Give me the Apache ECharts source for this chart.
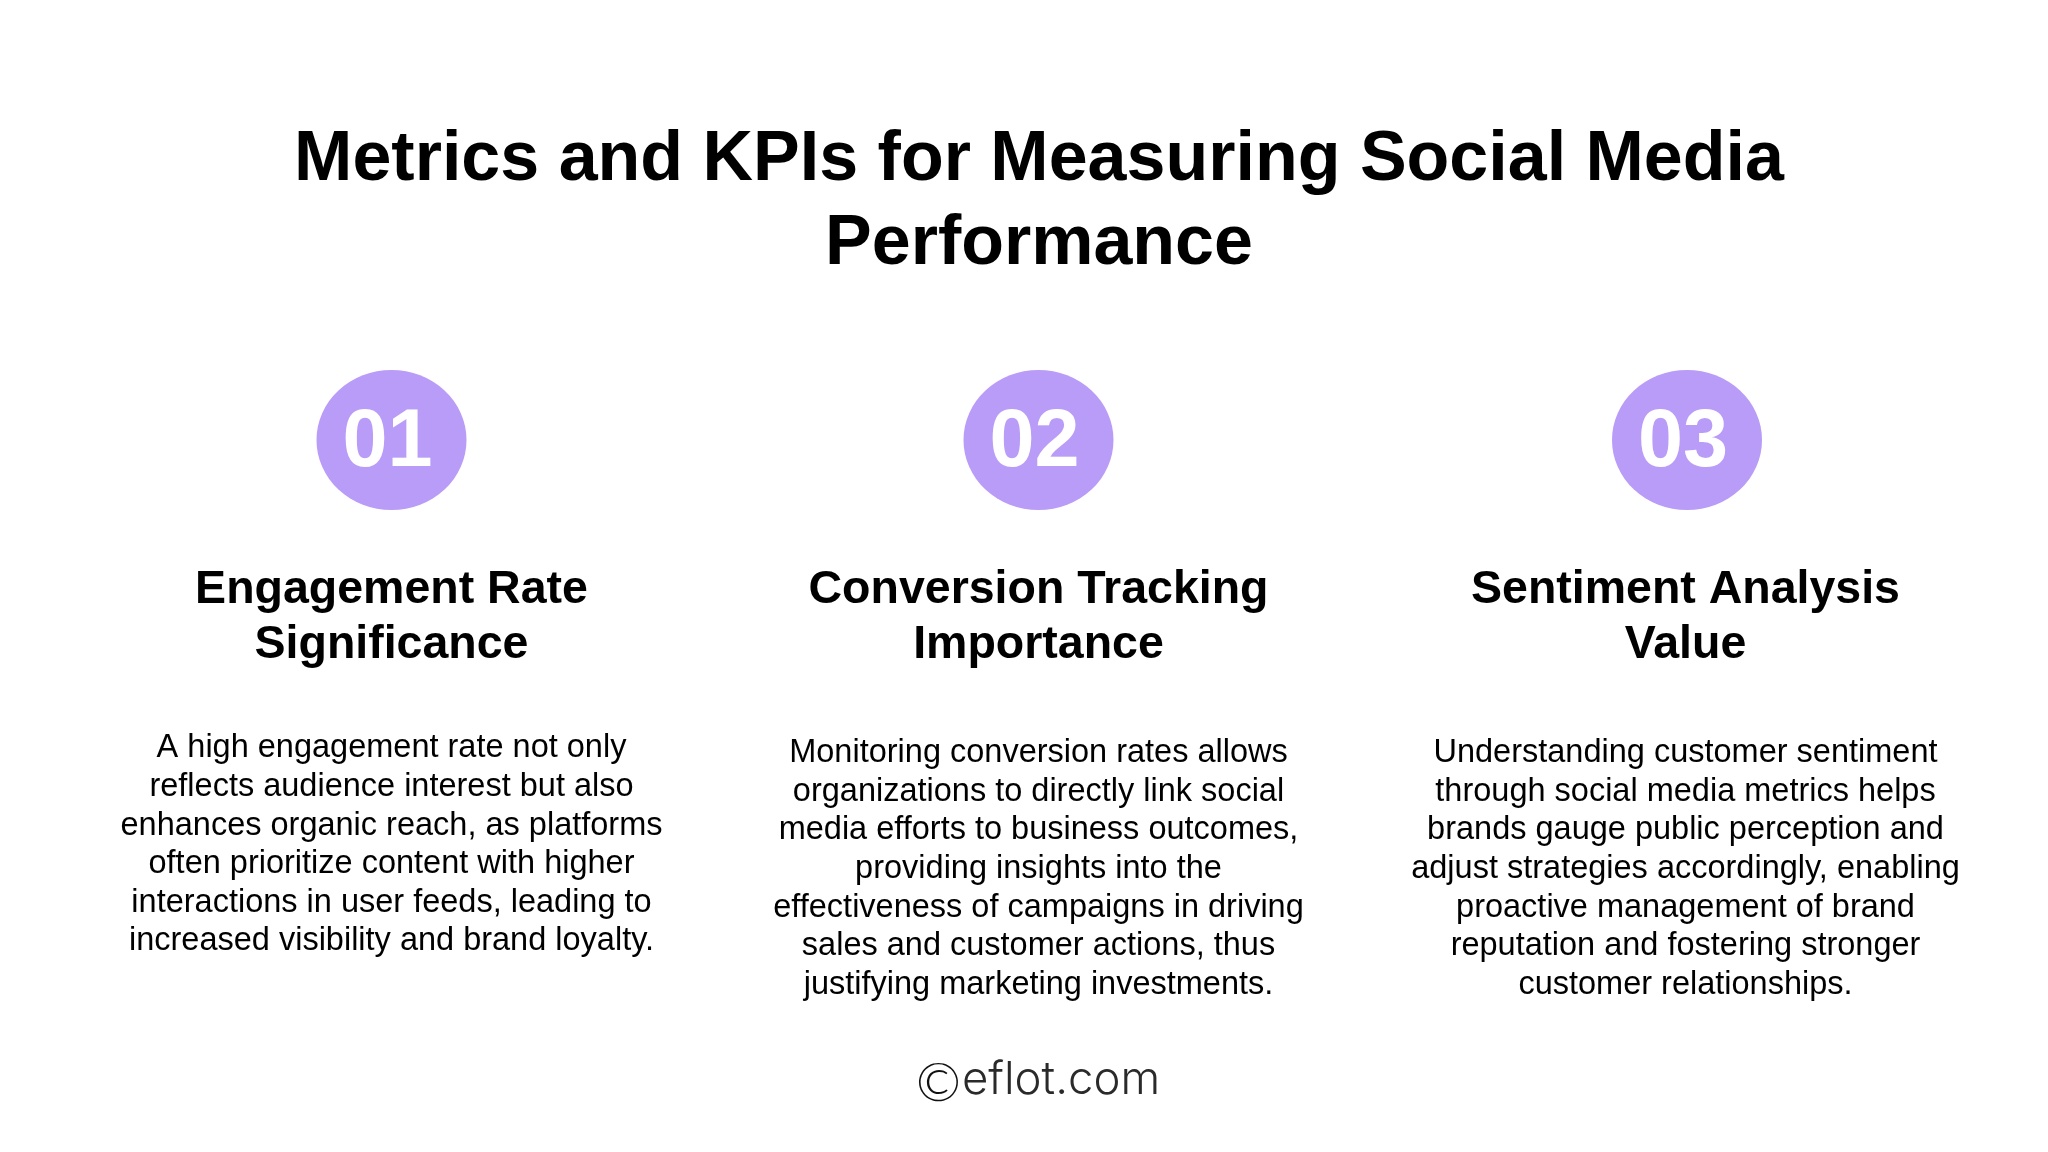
<!DOCTYPE html>
<html><head><meta charset="utf-8">
<style>html,body{margin:0;padding:0;background:#fff}#c{width:2048px;height:1152px}</style>
<script src="https://cdn.jsdelivr.net/npm/echarts@6/dist/echarts.min.js"></script>
</head><body><div id="c"></div>
<script>
const mainTitle = "Metrics and KPIs for Measuring Social Media\nPerformance";
const badges = ["01", "02", "03"];
const headings = ["Engagement Rate\nSignificance", "Conversion Tracking\nImportance", "Sentiment Analysis\nValue"];
const bodies = [
  "A high engagement rate not only\nreflects audience interest but also\nenhances organic reach, as platforms\noften prioritize content with higher\ninteractions in user feeds, leading to\nincreased visibility and brand loyalty.",
  "Monitoring conversion rates allows\norganizations to directly link social\nmedia efforts to business outcomes,\nproviding insights into the\neffectiveness of campaigns in driving\nsales and customer actions, thus\njustifying marketing investments.",
  "Understanding customer sentiment\nthrough social media metrics helps\nbrands gauge public perception and\nadjust strategies accordingly, enabling\nproactive management of brand\nreputation and fostering stronger\ncustomer relationships."
];
const footerMark = "©";
const footerText = "eflot.com";

const FONT = '"Liberation Sans", Arial, sans-serif';
const chart = echarts.init(document.getElementById('c'), null, {renderer:'canvas'});
const textSeries = (texts, ys, size, weight, lh) => ({
  type:'scatter', symbolSize:1, itemStyle:{color:'rgba(0,0,0,0)',opacity:1}, silent:true, z:3,
  data:texts.map((t,i)=>({value:[i,ys[i]],label:{formatter:t}})),
  label:{show:true,position:'inside',align:'center',verticalAlign:'middle',fontFamily:FONT,fontSize:size,fontWeight:weight,lineHeight:lh,color:'#000000'}
});
chart.setOption({
  animation:false,
  backgroundColor:'#ffffff',
  title:[{text:mainTitle,left:1034,top:114,textAlign:'center',
    textStyle:{fontFamily:FONT,fontSize:70,fontWeight:'bold',color:'#000',lineHeight:84}}],
  grid:{left:68,width:1941,top:0,height:1152},
  xAxis:{type:'category',data:badges,show:false,boundaryGap:true},
  yAxis:{type:'value',min:0,max:1152,inverse:true,show:false},
  graphic:[
    {type:'text',style:{text:footerMark,x:938.4,y:1084,textAlign:'center',textVerticalAlign:'middle',font:'300 54px Lato',fill:'#111'}},
    {type:'text',style:{text:footerText,x:1061,y:1080,textAlign:'center',textVerticalAlign:'middle',font:'300 45.5px Inter',fill:'#2a2a2a'}}
  ],
  series:[
    {type:'scatter',symbol:'circle',symbolSize:[150,140],itemStyle:{color:'#b99bf8',opacity:1},silent:true,
     data:badges.map((b,i)=>({value:[i,440],symbolOffset:i===2?[1.5,0]:[0,0],label:{formatter:b}})),
     label:{show:true,position:'inside',offset:[-4,4],fontFamily:FONT,fontSize:81,fontWeight:'bold',color:'#fff'}},
    textSeries(headings,[617.5,617.5,617.5],46.5,'bold',55),
    textSeries(bodies,[845,869,869],32.5,'normal',38.6)
  ]
});
</script></body></html>
